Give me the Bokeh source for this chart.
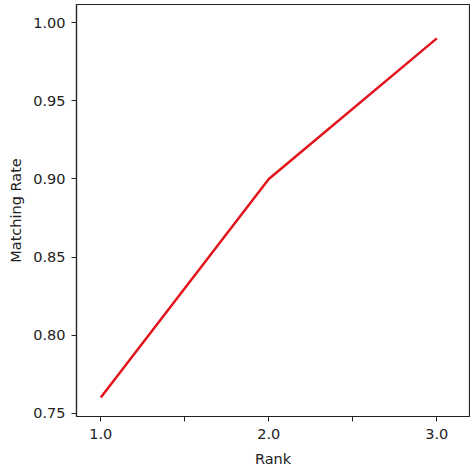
from bokeh.plotting import figure
from bokeh.models import Range1d, FixedTicker
from bokeh.embed import file_html
from bokeh.resources import INLINE

rank = [1.0, 2.0, 3.0]
matching_rate = [0.76, 0.90, 0.99]
x_ticks = [1.0, 1.5, 2.0, 2.5, 3.0]
x_tick_labels = ["1.0", "", "2.0", "", "3.0"]
y_ticks = [0.75, 0.80, 0.85, 0.90, 0.95, 1.00]
y_tick_labels = ["0.75", "0.80", "0.85", "0.90", "0.95", "1.00"]

p = figure(output_backend="svg", toolbar_location=None,
           frame_width=393, frame_height=412,
           min_border_left=76, min_border_right=1, min_border_top=4, min_border_bottom=54,
           x_range=Range1d(0.8554, 3.1946), y_range=Range1d(0.7479, 1.0117))
p.line(rank, matching_rate, line_color="#e3131c", line_width=2.5)

p.xgrid.visible = False
p.ygrid.visible = False
p.outline_line_color = "#222222"
p.outline_line_width = 1.2

p.xaxis.ticker = FixedTicker(ticks=x_ticks)
p.xaxis.major_label_overrides = {t: l for t, l in zip(x_ticks, x_tick_labels)}
p.yaxis.ticker = FixedTicker(ticks=y_ticks)
p.yaxis.major_label_overrides = {t: l for t, l in zip(y_ticks, y_tick_labels)}
p.xaxis.axis_label = "Rank"
p.yaxis.axis_label = "Matching Rate"

for ax in (p.xaxis[0], p.yaxis[0]):
    ax.minor_tick_line_color = None
    ax.major_tick_in = 0
    ax.major_tick_out = 5
    ax.major_tick_line_color = "#222222"
    ax.axis_line_color = "#222222"
    ax.axis_line_width = 1.2
    ax.major_label_text_font = "DejaVu Sans"
    ax.major_label_text_font_size = "14.5px"
    ax.major_label_text_color = "#222222"
    ax.axis_label_text_font = "DejaVu Sans"
    ax.axis_label_text_font_size = "14.5px"
    ax.axis_label_text_font_style = "normal"
    ax.axis_label_text_color = "#222222"

p.xaxis[0].major_label_standoff = 7
p.yaxis[0].major_label_standoff = 6
p.xaxis[0].axis_label_standoff = 9
p.yaxis[0].axis_label_standoff = 6

open("out.html", "w").write(file_html(p, INLINE))
